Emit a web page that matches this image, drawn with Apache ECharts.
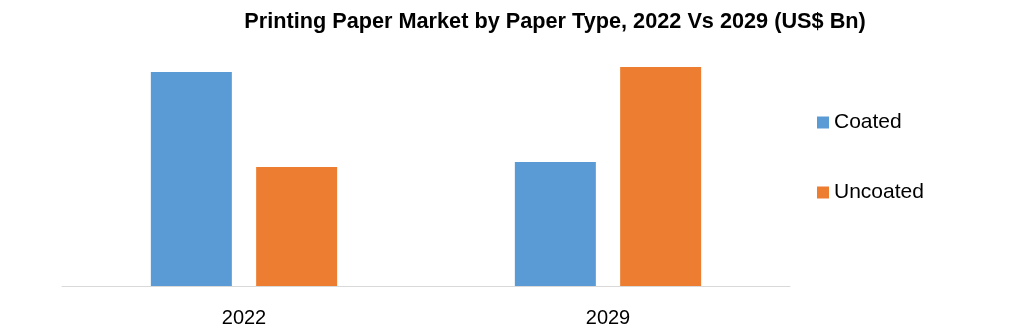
<!DOCTYPE html>
<html>
<head>
<meta charset="utf-8">
<script src="https://cdn.jsdelivr.net/npm/echarts@6/dist/echarts.min.js"></script>
<style>html,body{margin:0;padding:0;background:#fff;}#c{width:1024px;height:329px;}</style>
</head>
<body>
<div id="c"></div>
<script>
const categories = ['2022', '2029'];
const coated = [21.4, 12.4];
const uncoated = [11.9, 21.9];
const seriesNames = ['Coated', 'Uncoated'];

const FONT = '"Liberation Sans", sans-serif';
const chart = echarts.init(document.getElementById('c'));
chart.setOption({
  animation: false,
  title: {
    text: 'Printing Paper Market by Paper Type, 2022 Vs 2029 (US$ Bn)',
    left: 550, top: 6, textAlign: 'center',
    textStyle: { fontFamily: FONT, fontWeight: 'bold', fontSize: 21.7, color: '#000' }
  },
  legend: {
    orient: 'vertical', left: 812, top: 107, itemGap: 49,
    icon: 'rect', itemWidth: 12, itemHeight: 12,
    textStyle: { fontFamily: FONT, fontSize: 21, color: '#000' },
    data: seriesNames
  },
  grid: { left: 62, right: 234, top: 46, bottom: 43 },
  xAxis: {
    type: 'category', data: categories,
    axisLine: { lineStyle: { color: '#d9d9d9', width: 1 } },
    axisTick: { show: false },
    axisLabel: { fontFamily: FONT, fontSize: 20, color: '#000', margin: 22 }
  },
  yAxis: { type: 'value', min: 0, max: 24, show: false, splitLine: { show: false } },
  series: [
    { name: seriesNames[0], type: 'bar', data: coated, barWidth: 81, barGap: '30%', itemStyle: { color: '#5b9bd5' } },
    { name: seriesNames[1], type: 'bar', data: uncoated, barWidth: 81, itemStyle: { color: '#ed7d31' } }
  ]
});
</script>
</body>
</html>
